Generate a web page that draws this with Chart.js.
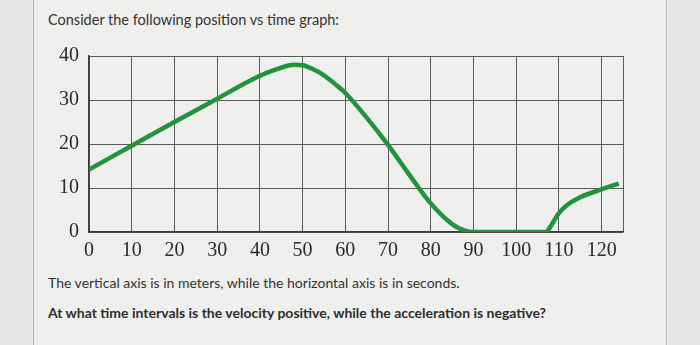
<!DOCTYPE html>
<html>
<head>
<meta charset="utf-8">
<script src="https://cdn.jsdelivr.net/npm/chart.js@4/dist/chart.umd.min.js"></script>
<style>
  html, body { margin: 0; padding: 0; }
  body { width: 700px; height: 345px; position: relative; overflow: hidden; background: #e7e7e5; font-family: Lato, "Open Sans", sans-serif; }
  #page { position: absolute; left: 33px; top: 0; width: 632px; height: 345px; background: #efefed; border-left: 1px solid #b5b5b3; border-right: 1px solid #b5b5b3; }
  .txt { position: absolute; left: 48px; color: #333; white-space: nowrap; }
  #t1 { top: 11px; font-size: 14.5px; }
  #t2 { top: 274px; font-size: 14px; }
  #t3 { top: 304px; font-size: 14px; font-weight: bold; color: #2e2e2e; }
  #wrap { position: absolute; left: 0; top: 0; width: 700px; height: 345px; }
</style>
</head>
<body>
<div id="page"></div>
<div class="txt" id="t1">Consider the following position vs time graph:</div>
<div class="txt" id="t2">The vertical axis is in meters, while the horizontal axis is in seconds.</div>
<div class="txt" id="t3">At what time intervals is the velocity positive, while the acceleration is negative?</div>
<div id="wrap"><canvas id="c" width="700" height="345"></canvas></div>
<script>
// Data
const timeSeconds = [0, 10, 20, 30, 40, 44, 48, 50, 52, 55, 58, 60, 65, 70, 75, 80, 85, 88, 90, 100, 107, 108, 109, 110, 112, 115, 120, 124];
const positionMeters = [14.2, 19.6, 25, 30.3, 35.5, 37, 38, 37.9, 37.2, 35.6, 33.3, 31.6, 26, 19.8, 13, 6.5, 1.8, 0.3, 0, 0, 0, 1.2, 2.8, 4.3, 6.2, 7.9, 9.7, 11];
const xTickValues = [0, 10, 20, 30, 40, 50, 60, 70, 80, 90, 100, 110, 120, 125];
const yTickValues = [0, 10, 20, 30, 40];

const points = timeSeconds.map((t, i) => ({ x: t, y: positionMeters[i] }));
const tickFont = { family: "'Liberation Serif', 'DejaVu Serif', serif", size: 20 };

new Chart(document.getElementById('c'), {
  type: 'line',
  data: {
    datasets: [{
      data: points,
      borderColor: '#22923c',
      borderWidth: 4.5,
      pointRadius: 0,
      fill: false,
      cubicInterpolationMode: 'monotone'
    }]
  },
  options: {
    responsive: false,
    animation: false,
    events: [],
    layout: { padding: { left: 0, right: 77, top: 56, bottom: 0 } },
    plugins: { legend: { display: false }, tooltip: { enabled: false } },
    scales: {
      x: {
        type: 'linear',
        min: 0, max: 125,
        afterBuildTicks: (ax) => { ax.ticks = xTickValues.map(v => ({ value: v })); },
        afterFit: (ax) => { ax.height = 113; },
        grid: { color: '#5a5a5a', lineWidth: 1, drawTicks: false },
        border: { color: '#3a3a3a', width: 1.5 },
        ticks: {
          color: '#2a2a2a', font: tickFont, padding: 7, maxRotation: 0, autoSkip: false,
          callback: (v) => (v === 125 ? '' : String(v))
        }
      },
      y: {
        min: 0, max: 40,
        afterBuildTicks: (ax) => { ax.ticks = yTickValues.map(v => ({ value: v })); },
        afterFit: (ax) => { ax.width = 89; },
        grid: { color: '#5a5a5a', lineWidth: 1, drawTicks: false },
        border: { color: '#3a3a3a', width: 1.5 },
        ticks: { color: '#2a2a2a', font: tickFont, padding: 10 }
      }
    }
  }
});
</script>
</body>
</html>
